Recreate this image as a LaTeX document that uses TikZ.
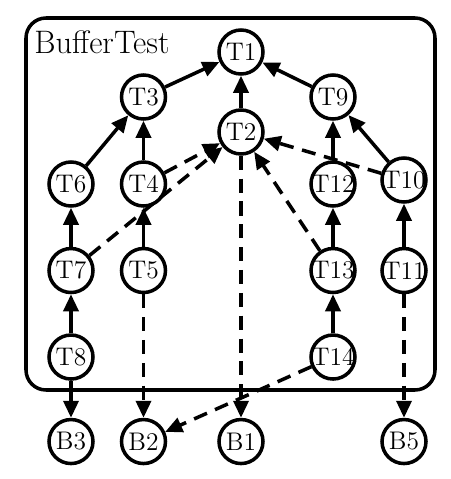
\documentclass[tikz,border=0pt]{standalone}
\usepackage{fontspec}
\usepackage{tikz}
\usetikzlibrary{arrows.meta, positioning}

\begin{document}
\begin{tikzpicture}[
    node distance=0.78cm,
    task/.style={circle, draw, line width=2pt, minimum size=0.88cm, inner sep=-1.5pt, font=\fontsize{14.5}{16}\selectfont},
    arr/.style={-{Triangle[length=3.4mm, width=3mm]}, line width=2pt},
    dep/.style={arr, dash pattern=on 8pt off 5pt},
  ]
    \useasboundingbox (0,0) rectangle (9,-9.58);

    % BufferTest box
    \draw[line width=2pt, rounded corners=0.4cm] (0.52,-0.36) rectangle (8.7,-7.8);
    \node[anchor=base west, inner sep=0pt, font=\fontsize{18.5}{20}\selectfont] (title) at (0.68,-1.06) {BufferTest};

    % Tasks
    \node[task] (t1) at (4.82,-1.04) {T1};
    \node[task] (t3) at (2.87,-1.94) {T3};
    \node[task] (t9) at (6.66,-1.94) {T9};
    \node[task] (t2) at (4.82,-2.64) {T2};
    \node[task] (t6) at (1.42,-3.68) {T6};
    \node[task] (t4) at (2.87,-3.68) {T4};
    \node[task] (t12) at (6.66,-3.68) {T12};
    \node[task] (t10) at (8.08,-3.6) {T10};
    \node[task, below=of t6] (t7) {T7};
    \node[task, below=of t4] (t5) {T5};
    \node[task, below=of t12] (t13) {T13};
    \node[task] (t11) at (t10 |- t7) {T11};
    \node[task, below=of t7] (t8) {T8};
    \node[task, below=of t13] (t14) {T14};

    % Buffers
    \node[task, below=0.74cm of t8] (b3) {B3};
    \node[task] (b2) at (t5 |- b3) {B2};
    \node[task] (b1) at (t2 |- b3) {B1};
    \node[task] (b5) at (t11 |- b3) {B5};

    % Task order
    \draw[arr] (t3) -- (t1);
    \draw[arr] (t2) -- (t1);
    \draw[arr] (t9) -- (t1);
    \draw[arr] (t6) -- (t3);
    \draw[arr] (t4) -- (t3);
    \draw[arr] (t12) -- (t9);
    \draw[arr] (t10) -- (t9);
    \draw[arr] (t7) -- (t6);
    \draw[arr] (t5) -- (t4);
    \draw[arr] (t13) -- (t12);
    \draw[arr] (t11) -- (t10);
    \draw[arr] (t8) -- (t7);
    \draw[arr] (t14) -- (t13);
    \draw[arr] (t8) -- (b3);

    % Dependencies
    \draw[dep] (t4) -- (t2);
    \draw[dep] (t7) -- (t2);
    \draw[dep] (t13) -- (t2);
    \draw[dep] (t10) -- (t2);
    \draw[dep] (t2) -- (b1);
    \draw[dep] (t5) -- (b2);
    \draw[dep] (t11) -- (b5);
    \draw[dep] (t14) -- (b2);
  \end{tikzpicture}
\end{document}
